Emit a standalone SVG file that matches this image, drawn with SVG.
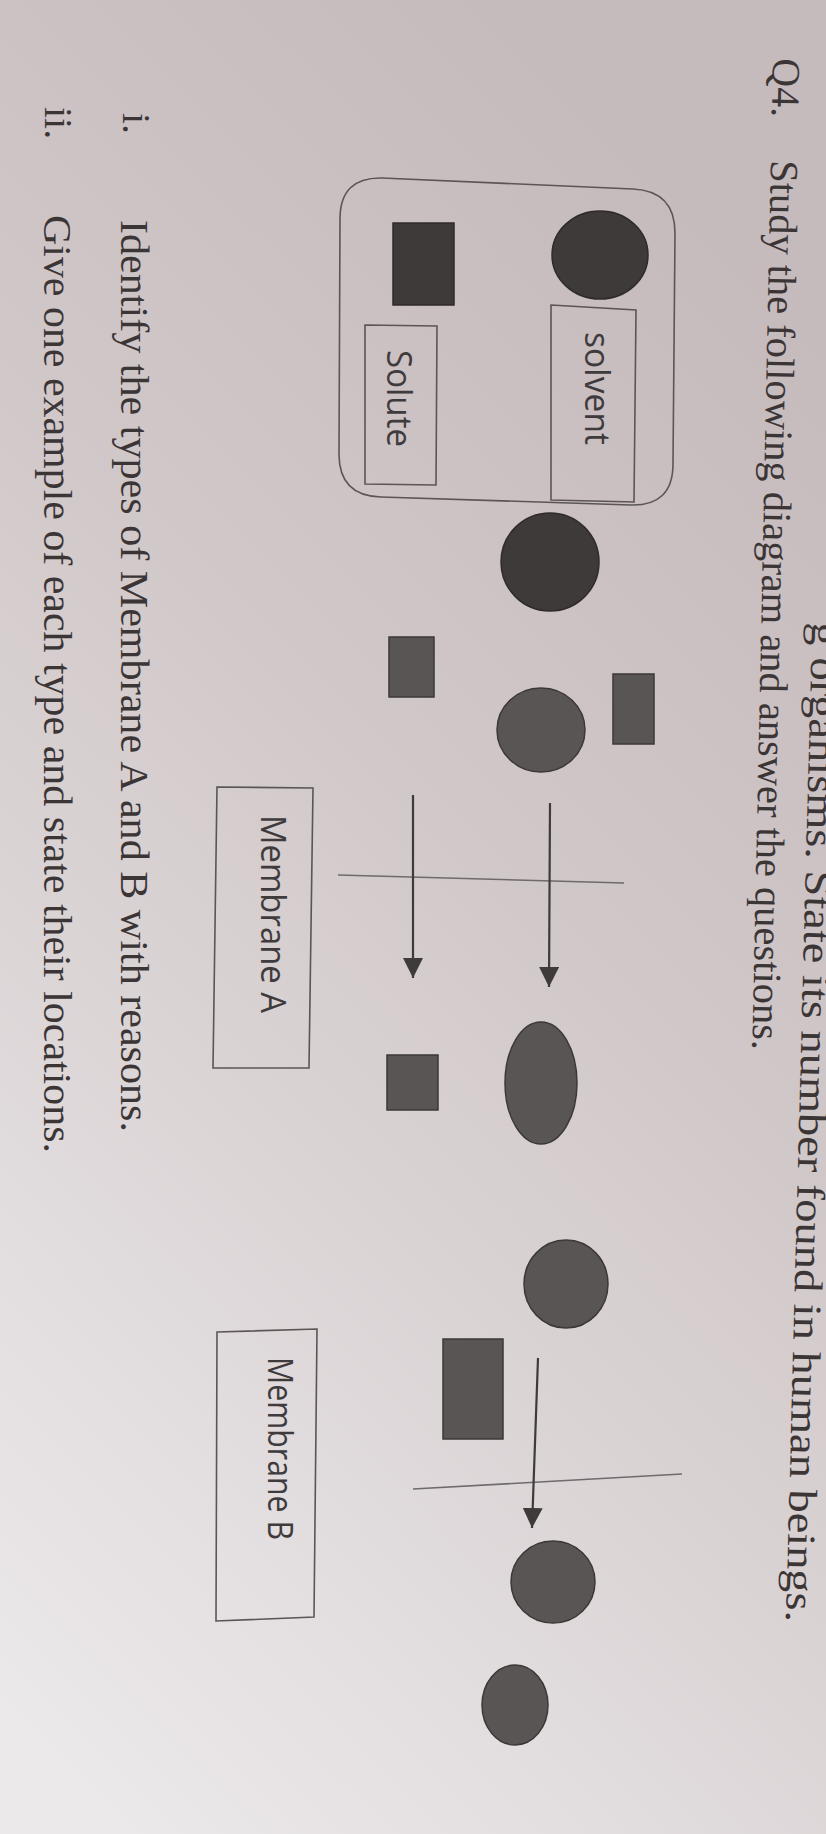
<svg xmlns="http://www.w3.org/2000/svg" width="826" height="1834" viewBox="0 0 826 1834">
<defs>
<linearGradient id="paper" x1="0.6" y1="0" x2="0.15" y2="1">
<stop offset="0" stop-color="#c5babc"/>
<stop offset="0.4" stop-color="#d1c8c9"/>
<stop offset="1" stop-color="#ecE9eb"/>
</linearGradient>
<marker id="arrow" markerUnits="userSpaceOnUse" markerWidth="22" markerHeight="22" refX="20" refY="10" orient="auto">
<path d="M0,0 L20,10 L0,20 Z" fill="#3f3b3b"/>
</marker>
<style>
.q{font-family:"Liberation Serif","Times New Roman",serif;font-size:40px;fill:#3b3536}
.lbl{font-family:"Open Sans","Liberation Sans",sans-serif;font-size:34px;fill:#3f3b3c}
.box{fill:none;stroke:#5b5556;stroke-width:1.6}
.dark{fill:#3e3a3a;stroke:#2f2b2b;stroke-width:1.5}
.mid{fill:#5a5555;stroke:#3c3838;stroke-width:1.5}
.mem{stroke:#6f6a6b;stroke-width:1.6;fill:none}
.arr{stroke:#3f3b3b;stroke-width:2.2;fill:none;marker-end:url(#arrow)}
</style>
</defs>
<rect x="0" y="0" width="826" height="1834" fill="url(#paper)"/>

<g id="question-text">
<text class="q" font-size="38" text-anchor="end" transform="translate(786,1622) rotate(91.5)" textLength="1000" lengthAdjust="spacingAndGlyphs">g organisms. State its number found in human beings.</text>
<text class="q" transform="translate(773,58) rotate(91.2)">Q4.</text>
<text class="q" transform="translate(771,160) rotate(91.2)" textLength="890" lengthAdjust="spacingAndGlyphs">Study the following diagram and answer the questions.</text>
<text class="q" transform="translate(123,113) rotate(90)">i.</text>
<text class="q" transform="translate(121,220) rotate(90)" textLength="912" lengthAdjust="spacingAndGlyphs">Identify the types of Membrane A and B with reasons.</text>
<text class="q" transform="translate(45,107) rotate(90)">ii.</text>
<text class="q" transform="translate(44,215) rotate(90)" textLength="938" lengthAdjust="spacingAndGlyphs">Give one example of each type and state their locations.</text>
</g>

<g id="legend">
<path class="box" stroke="#4a4546" stroke-width="2" d="M382,178 L633,189 Q675,191 675,233 L673,464 Q673,506 631,505 L381,497 Q339,496 339,454 L340,219 Q340,177 382,178 Z"/>
<g id="solvent-symbol"><ellipse class="dark" cx="600" cy="255" rx="48" ry="44"/></g>
<g id="solute-symbol"><rect class="dark" x="393" y="223" width="61" height="82"/></g>
<g id="solvent-label">
<polygon class="box" points="551,305 636,310 634,502 551,500"/>
<text class="lbl" transform="translate(585,332) rotate(90)" textLength="113" lengthAdjust="spacingAndGlyphs">solvent</text>
</g>
<g id="solute-label">
<polygon class="box" points="365,325 437,326 436,485 365,484"/>
<text class="lbl" transform="translate(387,350) rotate(90)" textLength="97" lengthAdjust="spacingAndGlyphs">Solute</text>
</g>
</g>

<g id="membrane-a-particles">
<circle class="dark" cx="550" cy="562" r="49"/>
<rect class="mid" x="613" y="674" width="41" height="70"/>
<rect class="mid" x="389" y="637" width="45" height="60"/>
<ellipse class="mid" cx="541" cy="730" rx="44" ry="42"/>
<ellipse class="mid" cx="541" cy="1083" rx="36" ry="61"/>
<rect class="mid" x="387" y="1055" width="51" height="55"/>
</g>

<g id="membrane-a">
<line class="mem" x1="338" y1="875" x2="624" y2="883"/>
<polygon class="box" points="217,787 313,788 309,1068 213,1068"/>
<text class="lbl" font-size="36" transform="translate(261,815) rotate(90)" textLength="198" lengthAdjust="spacingAndGlyphs">Membrane A</text>
</g>

<g id="membrane-b-particles">
<ellipse class="mid" cx="566" cy="1284" rx="42" ry="44"/>
<rect class="mid" x="443" y="1339" width="60" height="100"/>
<ellipse class="mid" cx="553" cy="1582" rx="42" ry="41"/>
<ellipse class="mid" cx="515" cy="1705" rx="33" ry="40"/>
</g>

<g id="membrane-b">
<line class="mem" x1="413" y1="1489" x2="682" y2="1474"/>
<polygon class="box" points="217,1332 317,1329 314,1617 216,1621"/>
<text class="lbl" font-size="36" transform="translate(268,1357) rotate(90)" textLength="183" lengthAdjust="spacingAndGlyphs">Membrane B</text>
</g>

<g id="connectors">
<line class="arr" x1="413" y1="795" x2="413" y2="978"/>
<line class="arr" x1="550" y1="803" x2="549" y2="987"/>
<line class="arr" x1="538" y1="1358" x2="532" y2="1528"/>
</g>
</svg>
